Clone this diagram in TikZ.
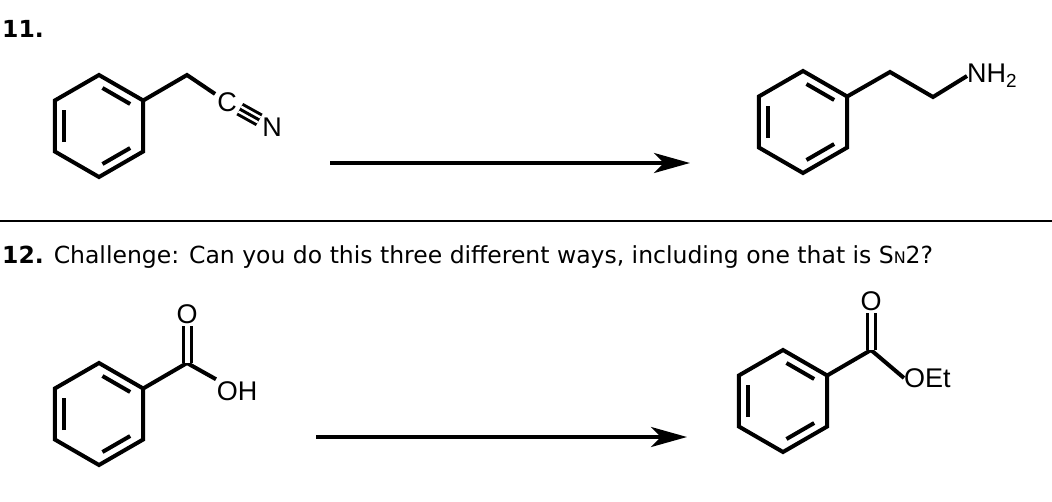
\documentclass[tikz,border=0pt]{standalone}
\usepackage{fontspec}
\setmainfont{DejaVu Sans}
\newfontfamily\atomfont{Liberation Sans}
\usetikzlibrary{calc,arrows.meta}
\newcommand{\drawatom}{\node[font=\atomfont\fontsize{27}{27}\selectfont,inner sep=2pt]}
\newcommand{\drawring}[1]{%
  \draw[bond] ($(#1)+(270:51)$) -- ($(#1)+(330:51)$) -- ($(#1)+(30:51)$) -- ($(#1)+(90:51)$) -- ($(#1)+(150:51)$) -- ($(#1)+(210:51)$) -- cycle;
  \draw[bond,shorten <=4pt,shorten >=4pt] ($(#1)+(270:40)$) -- ($(#1)+(330:40)$);
  \draw[bond,shorten <=4pt,shorten >=4pt] ($(#1)+(30:40)$) -- ($(#1)+(90:40)$);
  \draw[bond,shorten <=4pt,shorten >=4pt] ($(#1)+(150:40)$) -- ($(#1)+(210:40)$);}
\tikzset{
  bond/.style={line width=4pt,line join=miter,black},
  react/.style={line width=4pt,-{Stealth[length=36pt,width=20pt,inset=10pt]}},
  heading/.style={anchor=base west,inner sep=0,font=\fontsize{23.5}{23.5}\selectfont}
}
\begin{document}
\begin{tikzpicture}[x=1pt,y=-1pt]
\useasboundingbox (0,0) rectangle (1052,501);
% headings
\node[heading] (h11) at (2,37) {\textbf{11.}};
\node[heading] (h12) at (2,263) {\textbf{12.} Challenge: Can you do this three different ways, including one that is S{\fontsize{16}{16}\selectfont N}2?};
\coordinate (sepL) at (0,221);
\coordinate (sepR) at (1052,221);
\draw[line width=1.5pt] (sepL) -- (sepR);

% 11: benzyl cyanide
\coordinate (r1) at (99,126);
\drawring{r1}
\coordinate (a1) at (187,75);
\drawatom (c1) at (227,102) {C};
\drawatom (n1) at (272,127) {N};
\draw[bond] ($(r1)+(330:51)$) -- (a1) -- (c1);
\draw[line width=3pt,double distance=8pt,shorten <=1pt,shorten >=1pt] (c1) -- (n1);
\draw[line width=3pt,shorten <=1pt,shorten >=1pt] (c1) -- (n1);

% 11: phenethylamine
\coordinate (r2) at (803,122);
\drawring{r2}
\coordinate (b1) at (890,72);
\coordinate (b2) at (933,97);
\drawatom[anchor=west,inner sep=0] (nh) at (967,76) {NH\textsubscript{2}};
\draw[bond] ($(r2)+(330:51)$) -- (b1) -- (b2) -- (nh.west);

\coordinate (arA1) at (330,163);
\coordinate (arA2) at (690,163);
\draw[react] (arA1) -- (arA2);

% 12: benzoic acid
\coordinate (r3) at (99,414);
\drawring{r3}
\coordinate (k1) at (187,363);
\drawatom (o1) at (187,314) {O};
\drawatom (oh) at (237,391) {OH};
\draw[bond] ($(r3)+(330:51)$) -- (k1) -- (oh);
\draw[line width=3pt,double distance=5pt] (k1) -- (o1);

% 12: ethyl benzoate
\coordinate (r4) at (783,401);
\drawring{r4}
\coordinate (k2) at (871,350);
\drawatom (o2) at (871,301) {O};
\drawatom[anchor=west,inner sep=0] (oet) at (904,378) {OEt};
\draw[bond] ($(r4)+(330:51)$) -- (k2) -- (oet.west);
\draw[line width=3pt,double distance=5pt] (k2) -- (o2);

\coordinate (arB1) at (316,437);
\coordinate (arB2) at (687,437);
\draw[react] (arB1) -- (arB2);
\end{tikzpicture}
\end{document}
